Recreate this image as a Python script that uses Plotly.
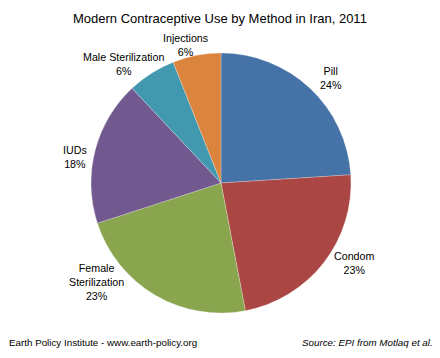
import plotly.graph_objects as go

W, H = 440, 358

methods = ["Pill", "Condom", "Female<br>Sterilization", "IUDs", "Male Sterilization", "Injections"]
shares = [24, 23, 23, 18, 6, 6]
colors = ["#4572A7", "#AA4643", "#89A54E", "#71588F", "#4198AF", "#DB843D"]
# label centres (pixels)
label_px = [(331, 78), (354, 263), (96, 282), (75, 157), (124, 64), (185, 45)]

FONT = "Liberation Sans"

fig = go.Figure(go.Pie(
    labels=methods, values=shares, sort=False, direction="clockwise", rotation=0,
    marker=dict(colors=colors, line=dict(color="rgba(255,255,255,0.5)", width=0.5)),
    textinfo="none", hoverinfo="label+percent", showlegend=False,
    domain=dict(x=[91 / W, 351 / W], y=[1 - 313 / H, 1 - 53 / H]),
))

for name, val, (px, py) in zip(methods, shares, label_px):
    fig.add_annotation(x=px / W, y=1 - py / H, xref="paper", yref="paper",
                       text=f"{name}<br>{val}%", showarrow=False,
                       font=dict(family=FONT, size=10.7, color="#000"),
                       align="center", xanchor="center", yanchor="middle")

fig.add_annotation(x=220 / W, y=1 - 18 / H, xref="paper", yref="paper",
                   text="Modern Contraceptive Use by Method in Iran, 2011", showarrow=False,
                   font=dict(family=FONT, size=13, color="#000"),
                   xanchor="center", yanchor="middle")
fig.add_annotation(x=7 / W, y=1 - 342 / H, xref="paper", yref="paper",
                   text="Earth Policy Institute - www.earth-policy.org", showarrow=False,
                   font=dict(family=FONT, size=9.8, color="#000"),
                   xanchor="left", yanchor="middle")
fig.add_annotation(x=435 / W, y=1 - 342 / H, xref="paper", yref="paper",
                   text="<i>Source: EPI from Motlaq et al.</i>", showarrow=False,
                   font=dict(family=FONT, size=9.8, color="#000"),
                   xanchor="right", yanchor="middle")

fig.update_layout(width=W, height=H, margin=dict(l=0, r=0, t=0, b=0),
                  paper_bgcolor="white", plot_bgcolor="white")
fig.write_html("out.html", config={"displayModeBar": False},
               post_script="document.body.style.margin='0';document.body.style.padding='0';")
